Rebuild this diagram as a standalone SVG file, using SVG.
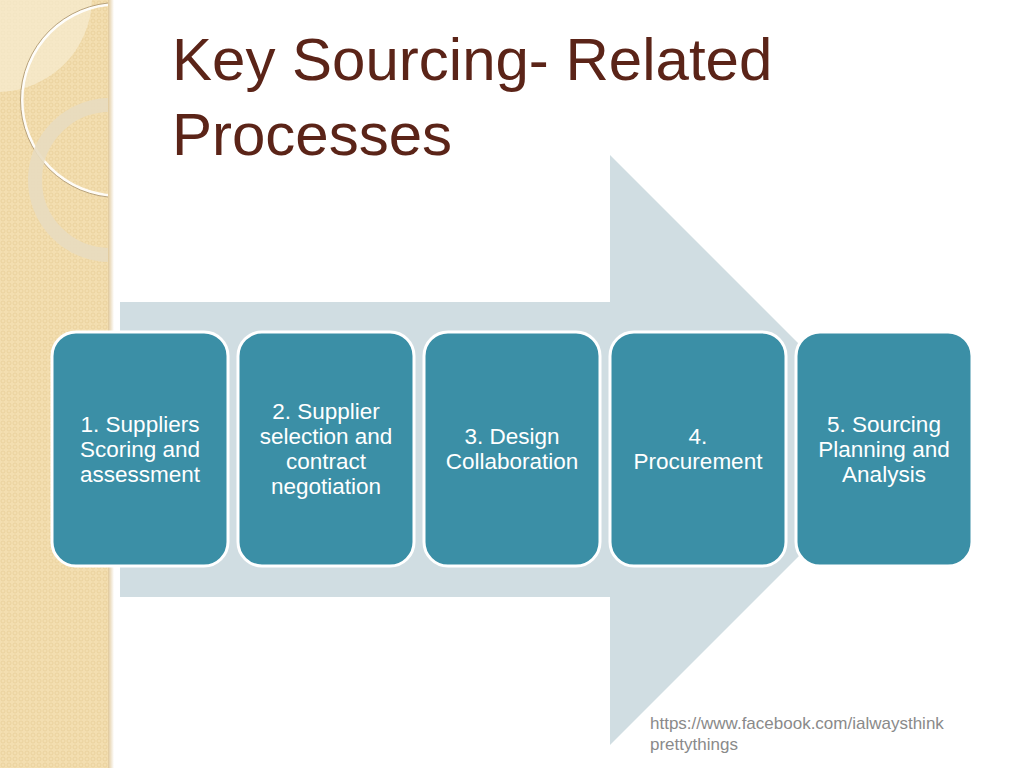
<svg xmlns="http://www.w3.org/2000/svg" width="1024" height="768" viewBox="0 0 1024 768">
<defs>
<pattern id="dots" width="6" height="6" patternUnits="userSpaceOnUse"><rect width="6" height="6" fill="#f3deb0"/><circle cx="3" cy="3" r="2" fill="none" stroke="#e9cf98" stroke-width="0.8"/></pattern>
<linearGradient id="edge" x1="0" x2="1"><stop offset="0" stop-color="#e0c89a"/><stop offset="1" stop-color="#fff"/></linearGradient>
<clipPath id="clip"><rect x="0" y="0" width="112" height="768"/></clipPath>
</defs>
<style>
.box{fill:#3b8fa6;stroke:#fff;stroke-width:3}
.lbl{font-family:"Liberation Sans",Arial,sans-serif;font-size:22.5px;fill:#fff;text-anchor:middle}
</style>
<rect width="1024" height="768" fill="#fff"/>
<g id="strip">
<rect x="0" y="0" width="112" height="768" fill="url(#dots)"/>
<g clip-path="url(#clip)">
<path d="M0,0 H92 A95,95 0 0 1 0,92 Z" fill="#f7ecd2" opacity="0.7"/>
<circle cx="118" cy="100" r="96" fill="none" stroke="#fff" stroke-width="3" opacity="0.9"/>
<circle cx="118" cy="100" r="97.5" fill="none" stroke="#b8a27a" stroke-width="1"/>
<circle cx="110" cy="180" r="75" fill="none" stroke="#e8dcc0" stroke-width="14" opacity="0.9"/>
</g>
<rect x="108" y="0" width="6" height="768" fill="url(#edge)"/>
</g>
<g id="title" font-family="'Liberation Sans',Arial,sans-serif" font-size="60" fill="#5b2418">
<text x="172" y="80">Key Sourcing- Related</text>
<text x="172" y="155">Processes</text>
</g>
<g id="connectors">
<path d="M120,302 H610 V155 L905,450 L610,745 V597 H120 Z" fill="#d0dde2"/>
</g>
<g id="n1"><rect class="box" x="52" y="332" width="176" height="234" rx="24"/>
<text class="lbl"><tspan x="140" y="432">1. Suppliers</tspan><tspan x="140" y="457">Scoring and</tspan><tspan x="140" y="482">assessment</tspan></text></g>
<g id="n2"><rect class="box" x="238" y="332" width="176" height="234" rx="24"/>
<text class="lbl"><tspan x="326" y="419">2. Supplier</tspan><tspan x="326" y="444">selection and</tspan><tspan x="326" y="469">contract</tspan><tspan x="326" y="494">negotiation</tspan></text></g>
<g id="n3"><rect class="box" x="424" y="332" width="176" height="234" rx="24"/>
<text class="lbl"><tspan x="512" y="444">3. Design</tspan><tspan x="512" y="469">Collaboration</tspan></text></g>
<g id="n4"><rect class="box" x="610" y="332" width="176" height="234" rx="24"/>
<text class="lbl"><tspan x="698" y="444">4.</tspan><tspan x="698" y="469">Procurement</tspan></text></g>
<g id="n5"><rect class="box" x="796" y="332" width="176" height="234" rx="24"/>
<text class="lbl"><tspan x="884" y="432">5. Sourcing</tspan><tspan x="884" y="457">Planning and</tspan><tspan x="884" y="482">Analysis</tspan></text></g>
<g id="credit" font-family="'Liberation Sans',Arial,sans-serif" font-size="17" fill="#8a8a8a">
<text x="650" y="729">https://www.facebook.com/ialwaysthink</text>
<text x="650" y="750">prettythings</text>
</g>
</svg>
